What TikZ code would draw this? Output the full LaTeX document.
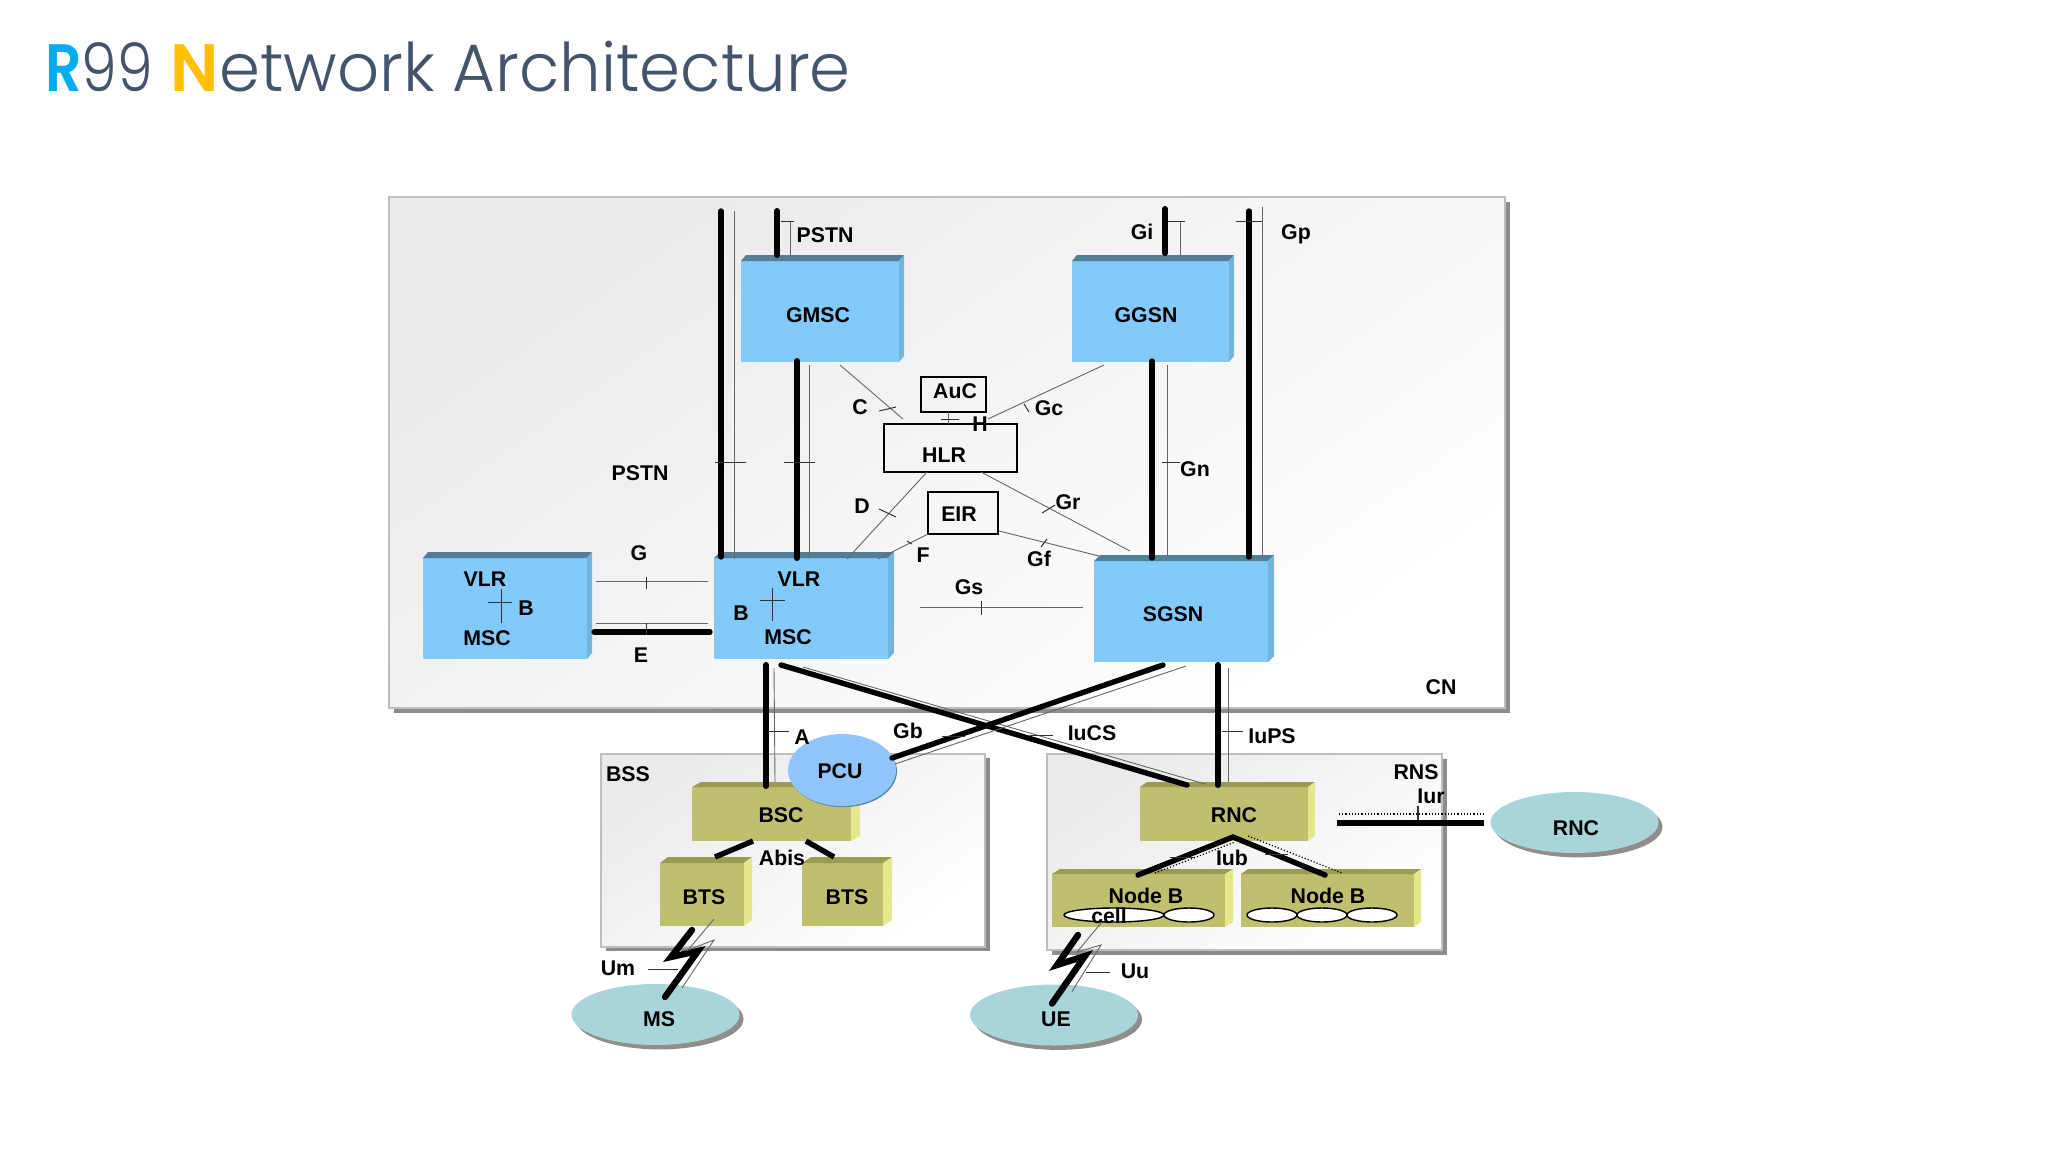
\documentclass[tikz,border=0pt]{standalone}
\usepackage{fontspec}
\usepackage{amsmath}
\setmainfont{Liberation Sans}
\newfontfamily\titlefont[FakeStretch=0.967]{Poppins Light}
\usetikzlibrary{calc,shapes.geometric,shadows}

\definecolor{bluefront}{HTML}{82CAFA}
\definecolor{bluetop}{HTML}{527F96}
\definecolor{blueside}{HTML}{72B4DC}
\definecolor{olivefront}{HTML}{BFBF6E}
\definecolor{olivetop}{HTML}{9C9C50}
\definecolor{oliveside}{HTML}{E6E68C}
\definecolor{ovalfill}{HTML}{A8D5DA}
\definecolor{ovalshadow}{HTML}{8E8E8E}
\definecolor{pcufill}{HTML}{8FC5FB}
\definecolor{pcurim}{HTML}{5F86B0}
\definecolor{panelfill}{HTML}{EAEAED}
\definecolor{panelmid}{HTML}{F7F7F8}
\definecolor{panelline}{HTML}{BEBEBE}
\definecolor{panelshadow}{HTML}{8C8C8C}
\definecolor{titleblue}{HTML}{00AEEF}
\definecolor{titleyellow}{HTML}{FFC000}
\definecolor{titleslate}{HTML}{44546A}
\definecolor{wiregray}{HTML}{666666}

\tikzset{
    lbl/.style={inner sep=0pt, outer sep=0pt, text height=7.6pt, text depth=0pt,
        font=\fontsize{10.65pt}{12pt}\selectfont\bfseries},
    wirethick/.style={line width=2.7pt, line cap=round, line join=miter},
    wirethin/.style={line width=0.45pt, wiregray},
    tickmark/.style={line width=0.5pt, black!80},
    wiredot/.style={line width=0.6pt, densely dotted},
    panel/.style={draw=panelline, line width=1pt, top color=panelfill, middle color=panelmid, bottom color=white, shading angle=35},
    plainbox/.style={draw, line width=1.3pt, inner sep=0pt, outer sep=0pt},
    oval/.style={ellipse, fill=ovalfill, inner sep=0pt, outer sep=0pt,
        minimum width=84pt, minimum height=30.5pt,
        drop shadow={shadow xshift=2pt, shadow yshift=-2.2pt, fill=ovalshadow, opacity=1}},
    cellshape/.style={ellipse, draw, fill=white, line width=0.7pt, inner sep=0pt, outer sep=0pt, minimum height=7pt},
}

% name, kind, x1, y1, x2, y2, bevel x, bevel y
\newcommand{\cubebox}[8]{%
    \node [fill=#2front, inner sep=0pt, outer sep=0pt,
        minimum width={(#5-#3)*0.5pt}, minimum height={(#6-#4)*0.5pt}]
        (#1) at ({(#3+#5)/2},{(#4+#6)/2}) {};
    \fill [#2top] (#1.north west) -- ++(#7,-#8) -- ($(#1.north east)+(#7,-#8)$) -- (#1.north east) -- cycle;
    \fill [#2side] (#1.north east) -- ++(#7,-#8) -- ($(#1.south east)+(#7,-#8)$) -- (#1.south east) -- cycle;
}

\begin{document}
\begin{tikzpicture}[x=0.5pt, y=-0.5pt]
    \useasboundingbox (0,0) rectangle (2048,1152);

    \node [anchor=west, inner sep=0pt, text=titleslate, font=\titlefont\fontsize{33.5pt}{36pt}\selectfont] (title) at (45,67)
        {\scalebox{0.88}[1]{{\color{titleblue}\bfseries R}99} \scalebox{1.015}[1]{{\color{titleyellow}\bfseries N}etwork Architecture}};

    % panels
    \fill [panelshadow] (394,202) rectangle (1510,713);
    \shade [panel] (389,197) rectangle (1505,708);
    \fill [panelshadow] (606,758) rectangle (990,951);
    \shade [panel] (601,754) rectangle (985,947);
    \fill [panelshadow] (1052,759) rectangle (1447,955);
    \shade [panel] (1047,754) rectangle (1442,950);

    % core network
    \cubebox{gmsc}{blue}{741}{261}{899}{362}{5}{6}
    \cubebox{ggsn}{blue}{1072}{261}{1229}{362}{5}{6}
    \cubebox{vlra}{blue}{423}{558}{587}{659}{5}{6}
    \cubebox{vlrb}{blue}{714}{558}{888}{659}{6}{6}
    \cubebox{sgsn}{blue}{1094}{561}{1268}{662}{6}{6}
    \node [plainbox, minimum width=32.5pt, minimum height=17.5pt] (auc) at (953.5,394.5) {};
    \node [plainbox, minimum width=66.5pt, minimum height=24pt] (hlr) at (950.5,448) {};
    \node [plainbox, minimum width=35pt, minimum height=21pt] (eir) at (963,513) {};

    % radio side
    \cubebox{bsc}{olive}{692}{787}{851}{841}{9}{5}
    \cubebox{btsa}{olive}{660}{863}{744}{926}{8}{6}
    \cubebox{btsb}{olive}{802}{863}{883}{926}{9}{6}
    \cubebox{rnc}{olive}{1140}{787}{1308}{841}{7}{5}
    \cubebox{nodeba}{olive}{1052}{874}{1225}{927}{8}{5}
    \cubebox{nodebb}{olive}{1241}{874}{1414}{927}{7}{5}
    \node [cellshape, minimum width=50pt] (cella) at (1114,915) {};
    \node [cellshape, minimum width=25pt] (cellb) at (1189,915) {};
    \foreach \i/\cx in {c/1272, d/1322, e/1372}
        \node [cellshape, minimum width=25pt] (cell\i) at (\cx,915) {};

    \node [ellipse, fill=pcufill, draw=none, inner sep=0pt, outer sep=0pt, minimum width=54pt, minimum height=36pt,
        drop shadow={shadow xshift=0.5pt, shadow yshift=-0.6pt, fill=pcurim, opacity=1}] (pcu) at (842,770) {};
    \node [oval] (ms) at (655.5,1014.5) {};
    \node [oval] (ue) at (1054,1015) {};
    \node [oval] (rncb) at (1574.5,822.5) {};

    % free ends at the top
    \coordinate (pstnleft) at (721,211);
    \coordinate (pstnleftb) at (734,211);
    \coordinate (pstntop) at (777,211);
    \coordinate (pstntopb) at (790,221);
    \coordinate (gitop) at (1165,209);
    \coordinate (gitopb) at (1180,221);
    \coordinate (gptop) at (1249,211);
    \coordinate (gptopb) at (1262,207);

    \draw [wirethick] (pstnleft) -- ($(vlrb.north west)+(7,-1)$);
    \draw [wirethin] (pstnleftb) -- ($(vlrb.north west)+(20,1)$);
    \draw [wirethick, line width=3pt] (pstntop) -- ($(gmsc.north west)+(36,-6)$);
    \draw [wirethin] (pstntopb) -- ($(gmsc.north west)+(49,-6)$);
    \draw [wirethick, line width=3pt] ($(gmsc.south west)+(56,-1)$) -- ($(vlrb.north west)+(83,0)$);
    \draw [wirethin] ($(gmsc.south west)+(68,3)$) -- ($(vlrb.north west)+(95,0)$);
    \draw [wirethick, line width=3pt] (gitop) -- ($(ggsn.north west)+(93,-8)$);
    \draw [wirethin] (gitopb) -- ($(ggsn.north west)+(108,-6)$);
    \draw [wirethick] (gptop) -- ($(sgsn.north west)+(155,-4)$);
    \draw [wirethin] (gptopb) -- ($(sgsn.north west)+(168,-4)$);
    \draw [wirethick] ($(ggsn.south west)+(80,-1)$) -- ($(sgsn.north west)+(58,-3)$);
    \draw [wirethin] ($(ggsn.south west)+(95,3)$) -- ($(sgsn.north west)+(73,-4)$);

    \draw [wirethin] ($(gmsc.south west)+(99,3)$) -- ($(hlr.north west)+(19,-5)$);
    \draw [wirethin] ($(ggsn.south west)+(32,3)$) -- ($(hlr.north west)+(104,-5)$);
    \draw [wirethin] ($(auc.south west)+(27,0)$) -- ($(hlr.north west)+(64,0)$);
    \draw [wirethin] ($(hlr.south west)+(43,0)$) -- ($(vlrb.north west)+(133,1)$);
    \draw [wirethin] ($(hlr.south west)+(97,0)$) -- ($(sgsn.north west)+(36,-10)$);
    \draw [wirethin] (eir.south west) -- ($(vlrb.north west)+(164,1)$);
    \draw [wirethin] ($(eir.south east)+(1,-3)$) -- ($(sgsn.north west)+(5,-5)$);

    \draw [wirethin] ($(vlra.north east)+(9,23)$) -- ($(vlrb.north west)+(-6,23)$);
    \draw [wirethin] ($(vlra.north east)+(9,65)$) -- ($(vlrb.north west)+(-6,65)$);
    \draw [wirethick] ($(vlra.north east)+(7,74)$) -- ($(vlrb.north west)+(-4,74)$);
    \draw [wirethin] ($(vlrb.north east)+(32,49)$) -- ($(sgsn.north west)+(-11,46)$);

    \draw [wirethick, line width=3pt] ($(vlrb.south west)+(52,6)$) -- ($(bsc.north west)+(74,-1)$);
    \draw [wirethin] ($(vlrb.south west)+(60,9)$) -- ($(bsc.north west)+(83,-5)$);
    \draw [wirethick] ($(vlrb.south west)+(67,6)$) -- ($(rnc.north west)+(47,-2)$);
    \draw [wirethin] ($(vlrb.south west)+(89,8)$) -- ($(rnc.north west)+(65,-3)$);
    \draw [wirethick] ($(sgsn.south west)+(69,3)$) -- ($(pcu.east)+(-4,-12)$);
    \draw [wirethin] ($(sgsn.south west)+(92,4)$) -- ($(pcu.east)+(-1,-6)$);
    \draw [wirethick, line width=3pt] ($(sgsn.south west)+(124,3)$) -- ($(rnc.north west)+(78,-2)$);
    \draw [wirethin] ($(sgsn.south west)+(134,6)$) -- ($(rnc.north west)+(88,-5)$);

    \draw [wirethick, line cap=butt] ($(bsc.south west)+(61,0)$) -- ($(btsa.north west)+(55,-6)$);
    \draw [wirethick, line cap=butt] ($(bsc.south west)+(114,0)$) -- ($(btsb.north west)+(32,-6)$);

    \draw [wirethick, line width=3.2pt] ($(btsa.south west)+(32,4)$) -- ++(-21,27) -- ++(27,-6) -- ($(ms.north)+(9.5,13)$);
    \draw [wirethin] ($(btsa.south west)+(54,-7)$) -- ++(-26,31) -- ++(26,-10) -- ($(ms.north)+(26.5,4)$);
    \draw [wirethick, line width=3.2pt] ($(nodeba.south west)+(26,8)$) -- ++(-21,30) -- ++(28,-9) -- ($(ue.north)+(-2,19)$);
    \draw [wirethin] ($(nodeba.south west)+(49,-4)$) -- ++(-24,29) -- ++(24,-7) -- ($(ue.north)+(18,7)$);

    \draw [wirethick] ($(nodeba.north west)+(86,1)$) -- ($(rnc.south west)+(93,-4)$) -- ($(nodebb.north west)+(84,1)$);
    \draw [wiredot] ($(nodeba.north west)+(103,-1)$) -- ($(rnc.south west)+(95,1)$);
    \draw [wiredot] ($(rnc.south west)+(108,-5)$) -- ($(nodebb.north west)+(101,-1)$);
    \draw [wirethick, line cap=butt, line width=3pt] ($(rnc.north east)+(28.5,36)$) -- ($(rncb.west)+(-7,0.5)$);
    \draw [wiredot] ($(rnc.north east)+(31,27)$) -- ($(rncb.west)+(-5,-8.5)$);

    % ticks
    \draw [tickmark] (715,462) -- (746,462);
    \draw [tickmark] (784,462) -- (815,462);
    \draw [tickmark] (781,221) -- (794,221);
    \draw [tickmark] (1168,221) -- (1185,221);
    \draw [tickmark] (1236,221) -- (1262,221);
    \draw [tickmark] (1162,462) -- (1180,462);
    \draw [tickmark] (879,411) -- (896,407);
    \draw [tickmark] (1024,404) -- (1029,412);
    \draw [tickmark] (941,419) -- (959,419);
    \draw [tickmark] (879,509) -- (896,517);
    \draw [tickmark] (1042,513) -- (1055,505);
    \draw [tickmark] (907,541) -- (912,544);
    \draw [tickmark] (1041,547) -- (1047,539);
    \draw [tickmark] (646,577) -- (646,589);
    \draw [tickmark] (646,623) -- (646,635);
    \draw [tickmark] (981,601) -- (981,615);
    \draw [tickmark] (488,602) -- (512,602);
    \draw [tickmark] (501,589) -- (501,623);
    \draw [tickmark] (760,600) -- (785,600);
    \draw [tickmark] (772,588) -- (772,621);
    \draw [tickmark] (768,731) -- (789,731);
    \draw [tickmark] (1030,735) -- (1053,735);
    \draw [tickmark] (942,736) -- (965,736);
    \draw [tickmark] (1222,731) -- (1243,731);
    \draw [tickmark] (648,969) -- (678,969);
    \draw [tickmark] (1086,972) -- (1110,972);
    \draw [tickmark] (1170,857) -- (1194,857);
    \draw [tickmark] (1265,854) -- (1288,854);
    \draw [tickmark, line width=0.8pt] (1418,806) -- (1418,820);

    % labels
    \foreach \nm/\tx/\lx/\ly in {
        tgmsc/GMSC/818/315, tggsn/GGSN/1146/315, tauc/AuC/955/391, thlr/HLR/944/455,
        teir/EIR/959/514, th/H/980/424, tpstna/PSTN/825/235, tgi/Gi/1142/232,
        tgp/Gp/1296/232, tc/C/860/407, tgc/Gc/1049/408, tgn/Gn/1195/469,
        tgr/Gr/1068/502, td/D/862/506, tf/F/923/555, tgf/Gf/1039/559,
        tpstnb/PSTN/640/473, tg/G/639/553, te/E/641/655, tgs/Gs/969/587,
        tvlra/VLR/485/579, tba/B/526/608, tmsca/MSC/487/638,
        tvlrb/VLR/799/579, tbb/B/741/613, tmscb/MSC/788/637,
        tsgsn/SGSN/1173/614, tcn/CN/1441/687, tiucs/IuCS/1092/733, tiups/IuPS/1272/736,
        trns/RNS/1416/772, ta/A/802/737, tgb/Gb/908/731, tbss/BSS/628/774,
        tbsc/BSC/781/815, tbtsa/BTS/704/897, tbtsb/BTS/847/897, tabis/Abis/782/858,
        tpcu/PCU/840/771, tum/Um/618/968, tms/MS/659/1019, tue/UE/1056/1019,
        trncb/RNC/1576/828, trnc/RNC/1234/815, tnba/Node B/1146/896, tnbb/Node B/1328/896,
        tcell/cell/1109/916, tiub/Iub/1232/858, tiur/Iur/1431/796, tuu/Uu/1135/971}
        \node [lbl] (\nm) at (\lx,\ly) {\tx};
\end{tikzpicture}
\end{document}
